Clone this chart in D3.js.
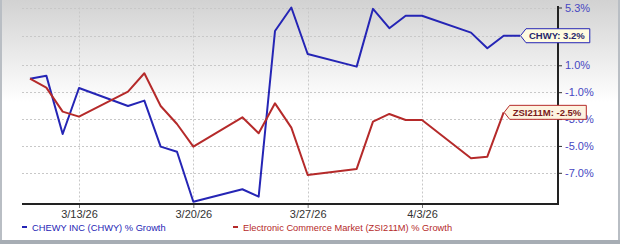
<!DOCTYPE html>
<html>
<head>
<meta charset="utf-8">
<script src="https://cdn.jsdelivr.net/npm/d3@7"></script>
<style>
  html, body { margin: 0; padding: 0; background: #fff; }
  svg { display: block; font-family: "Liberation Sans", Arial, sans-serif; }
</style>
</head>
<body>
<svg id="chart"></svg>
<script>
let width = 620;
let height = 244;

// trading days shown on the chart
const dates = ['2026-03-10','2026-03-11','2026-03-12','2026-03-13','2026-03-16','2026-03-17','2026-03-18',
               '2026-03-19','2026-03-20','2026-03-23','2026-03-24','2026-03-25','2026-03-26','2026-03-27',
               '2026-03-30','2026-03-31','2026-04-01','2026-04-02','2026-04-03','2026-04-06','2026-04-07',
               '2026-04-08','2026-04-09'];
// % growth, CHEWY INC (CHWY)
const chwy = [0.0, 0.23, -4.11, -0.69, -2.03, -1.63, -5.05, -5.43, -9.15, -8.22, -8.77, 3.55, 5.3, 1.84,
              0.9, 5.2, 3.76, 4.69, 4.69, 3.43, 2.27, 3.2, 3.2];
// % growth, Electronic Commerce Market (ZSI211M)
const zsi = [0.0, -0.66, -2.45, -2.82, -0.96, 0.41, -2.03, -3.37, -5.05, -2.87, -4.06, -1.83, -3.64, -7.16,
             -6.71, -3.19, -2.62, -3.07, -3.07, -5.92, -5.8, -2.5];

const yTicks = [5.3, 3.2, 1.0, -1.0, -3.0, -5.0, -7.0];
const xTicks = ['2026-03-13', '2026-03-20', '2026-03-27', '2026-04-03'];
const legendNames = ['CHEWY INC (CHWY) % Growth', 'Electronic Commerce Market (ZSI211M) % Growth'];

const parse = d3.timeParse('%Y-%m-%d');
const fmt = d3.timeFormat('%-m/%-d/%y');
const blue = '#2525b5';
const red = '#b52a2a';

const plot = {left: 22, right: 558, top: 7.5, bottom: 204};

const x = d3.scaleTime()
    .domain([parse(dates[0]), parse(dates[dates.length - 1])])
    .range([30, 520]);
const y = d3.scaleLinear()
    .domain([-9.32, 5.3])
    .range([plot.bottom, plot.top]);

const svg = d3.select('#chart')
    .attr('width', width)
    .attr('height', height);

// background gradient
const grad = svg.append('defs').append('linearGradient')
    .attr('id', 'bg').attr('x1', 0).attr('y1', 0).attr('x2', 0).attr('y2', 1);
grad.append('stop').attr('offset', '0%').attr('stop-color', '#d2d2d2');
grad.append('stop').attr('offset', '42%').attr('stop-color', '#ffffff');
grad.append('stop').attr('offset', '100%').attr('stop-color', '#ffffff');
svg.append('rect').attr('width', width).attr('height', height).attr('fill', 'url(#bg)');

// frame
svg.append('rect').attr('x', 0).attr('y', 0).attr('width', 2).attr('height', height).attr('fill', '#b9bec4');
svg.append('rect').attr('x', 618).attr('y', 0).attr('width', 2).attr('height', height).attr('fill', '#b9bec4');
svg.append('rect').attr('x', 0).attr('y', 240).attr('width', width).attr('height', 4).attr('fill', '#a7adb4');

// grid
svg.append('g')
    .selectAll('line')
    .data(yTicks)
    .join('line')
    .attr('x1', plot.left).attr('x2', plot.right)
    .attr('y1', d => Math.round(y(d)) + 0.5).attr('y2', d => Math.round(y(d)) + 0.5)
    .attr('stroke', '#c8c8c8').attr('stroke-dasharray', '2,2');
svg.append('g')
    .selectAll('line')
    .data(xTicks)
    .join('line')
    .attr('x1', d => Math.round(x(parse(d))) + 0.5).attr('x2', d => Math.round(x(parse(d))) + 0.5)
    .attr('y1', plot.top).attr('y2', plot.bottom)
    .attr('stroke', '#c8c8c8').attr('stroke-dasharray', '2,2');

// axes
const xAxis = svg.append('g')
    .attr('transform', `translate(0,${plot.bottom})`)
    .call(d3.axisBottom(x).tickValues(xTicks.map(parse)).tickFormat(fmt).tickSize(4).tickSizeOuter(0));
xAxis.select('.domain').remove();
xAxis.selectAll('.tick line').attr('stroke', '#777');
xAxis.selectAll('.tick text')
    .attr('y', 6).attr('fill', '#333').attr('font-size', 11).attr('font-family', '"Liberation Sans", Arial, sans-serif');
svg.append('line')
    .attr('x1', plot.left).attr('x2', plot.right + 1)
    .attr('y1', plot.bottom).attr('y2', plot.bottom)
    .attr('stroke', '#222').attr('stroke-width', 2);

const yAxis = svg.append('g')
    .attr('transform', `translate(${plot.right},0)`)
    .call(d3.axisRight(y).tickValues(yTicks).tickFormat(d => d.toFixed(1) + '%').tickSize(4).tickSizeOuter(0));
yAxis.select('.domain').remove();
yAxis.selectAll('.tick line').attr('stroke', '#333');
yAxis.selectAll('.tick text')
    .attr('x', 7).attr('fill', '#4747c2').attr('font-size', 11).attr('font-family', '"Liberation Sans", Arial, sans-serif');
svg.append('line')
    .attr('x1', plot.right).attr('x2', plot.right)
    .attr('y1', plot.top - 1.5).attr('y2', plot.bottom)
    .attr('stroke', '#222').attr('stroke-width', 2);

// lines
const line = d3.line()
    .x(d => x(d[0]))
    .y(d => y(d[1]));

const series = [
    {name: 'CHWY', values: chwy, color: blue, text: '#26266b', fill: '#fffbe0'},
    {name: 'ZSI211M', values: zsi, color: red, text: '#7a1a1a', fill: '#fdf3e0'}
];

series.forEach(s => {
    s.points = s.values.map((v, i) => [parse(dates[i]), v]);
    svg.append('path')
        .datum(s.points)
        .attr('fill', 'none')
        .attr('stroke', s.color)
        .attr('stroke-width', 2)
        .attr('stroke-linejoin', 'round')
        .attr('d', line);
});

// end labels
series.forEach(s => {
    const last = s.points[s.points.length - 1];
    const px = x(last[0]), py = y(last[1]);
    const g = svg.append('g').attr('transform', `translate(${px},${py})`);
    const label = s.name + ': ' + last[1].toFixed(1) + '%';
    const t = g.append('text')
        .attr('x', 9).attr('y', 3.5)
        .attr('font-size', 9.5).attr('font-weight', 'bold')
        .attr('fill', s.text)
        .text(label);
    const w = t.node().getComputedTextLength() + 14;
    g.insert('path', 'text')
        .attr('d', `M0.5,0 L6,-7 L${w},-7 L${w},7 L6,7 Z`)
        .attr('fill', s.fill)
        .attr('stroke', s.color)
        .attr('stroke-width', 1);
});

// legend
const legend = svg.append('g').attr('font-size', 9.3);
[[22, blue, legendNames[0]], [233, red, legendNames[1]]].forEach(([lx, c, name]) => {
    legend.append('rect').attr('x', lx).attr('y', 226).attr('width', 5).attr('height', 2).attr('fill', c);
    legend.append('text').attr('x', lx + 10).attr('y', 230.5).attr('fill', c).text(name);
});
</script>
</body>
</html>
